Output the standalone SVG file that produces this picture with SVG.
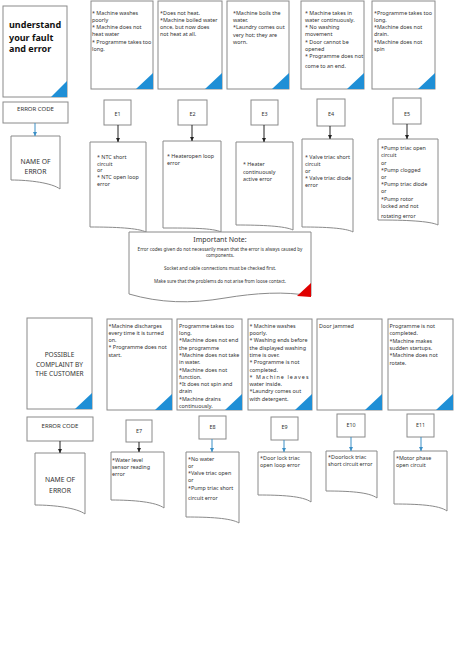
<svg xmlns="http://www.w3.org/2000/svg" width="474" height="670" viewBox="0 0 474 670">
<style>
.b{fill:#fff;stroke:#8a8a8a;stroke-width:1}
.tri{fill:#1f8fd6}
.t{font-family:"Noto Sans","Open Sans",sans-serif;font-size:5.4px;fill:#333}
.c{text-anchor:middle}
.big{font-size:6.8px}
.ec{font-size:6px}
.bold{font-family:"Noto Sans","Open Sans",sans-serif;font-size:9px;font-weight:bold;fill:#111}
.n{font-size:4.6px}
.ab{stroke:#3a8fc6;stroke-width:1;fill:none;marker-end:url(#mb)}
.ak{stroke:#222;stroke-width:1;fill:none;marker-end:url(#mk)}
</style>
<defs>
<marker id="mb" viewBox="0 0 6 6" refX="6" refY="3" markerWidth="4" markerHeight="4" markerUnits="userSpaceOnUse" orient="auto"><path d="M0,0 L6,3 L0,6 z" fill="#3a8fc6"/></marker>
<marker id="mk" viewBox="0 0 6 6" refX="6" refY="3" markerWidth="4" markerHeight="4" markerUnits="userSpaceOnUse" orient="auto"><path d="M0,0 L6,3 L0,6 z" fill="#222"/></marker>
</defs>
<rect width="474" height="670" fill="#fff"/>

<!-- top complaint row -->
<g id="title">
<rect class="b" x="3" y="6" width="64" height="91"/>
<polygon class="tri" points="51,97 67,81 67,97"/>
<text class="bold" x="9" y="28">understand</text>
<text class="bold" x="9" y="40.7">your fault</text>
<text class="bold" x="9" y="52.3">and error</text>
</g>
<g id="c-e1">
<rect class="b" x="91" y="1" width="62" height="88"/>
<polygon class="tri" points="136,89 153,73 153,89"/>
<text class="t" x="92" y="14.7">* Machine washes</text>
<text class="t" x="92" y="21.5">poorly</text>
<text class="t" x="92" y="28.7">* Machine does not</text>
<text class="t" x="92" y="36">heat water</text>
<text class="t" x="92" y="43.5">* Programme takes too</text>
<text class="t" x="92" y="50.7">long.</text>
</g>
<g id="c-e2">
<rect class="b" x="158" y="1" width="64" height="88"/>
<polygon class="tri" points="205,89 222,73 222,89"/>
<text class="t" x="160" y="14.7">*Does not heat.</text>
<text class="t" x="160" y="21.5">*Machine  boiled  water</text>
<text class="t" x="160" y="28.7">once, but now does</text>
<text class="t" x="160" y="36">not heat at all.</text>
</g>
<g id="c-e3">
<rect class="b" x="227" y="1" width="62" height="88"/>
<polygon class="tri" points="272,89 289,73 289,89"/>
<text class="t" x="233" y="14.7">*Machine boils the</text>
<text class="t" x="233" y="21.5">water.</text>
<text class="t" x="233" y="29.3">*Laundry comes out</text>
<text class="t" x="233" y="36.7">very hot; they are</text>
<text class="t" x="233" y="44">worn.</text>
</g>
<g id="c-e4">
<rect class="b" x="301" y="1" width="63" height="88"/>
<polygon class="tri" points="347,89 364,73 364,89"/>
<text class="t" x="305" y="14.7">* Machine takes in</text>
<text class="t" x="305" y="21.5">water continuously.</text>
<text class="t" x="305" y="28.7">* No washing</text>
<text class="t" x="305" y="36">movement</text>
<text class="t" x="305" y="43.5">* Door cannot be</text>
<text class="t" x="305" y="50.7">opened</text>
<text class="t" x="305" y="58">* Programme does not</text>
<text class="t" x="305" y="67.7">come to an end.</text>
</g>
<g id="c-e5">
<rect class="b" x="372" y="1" width="63" height="88"/>
<polygon class="tri" points="418,89 435,73 435,89"/>
<text class="t" x="374" y="14.7">*Programme takes too</text>
<text class="t" x="374" y="21.5">long.</text>
<text class="t" x="374" y="29">*Machine  does  not</text>
<text class="t" x="374" y="36">drain.</text>
<text class="t" x="374" y="43.5">*Machine  does  not</text>
<text class="t" x="374" y="50.7">spin</text>
</g>

<!-- top code row -->
<g id="errcode-top">
<rect class="b" x="3" y="102" width="65" height="21"/>
<text class="t ec c" x="35.5" y="111">ERROR CODE</text>
</g>
<g id="code-e1"><rect class="b" x="104" y="100" width="27" height="25"/><text class="t c" x="117.5" y="116">E1</text></g>
<g id="code-e2"><rect class="b" x="178" y="100" width="29" height="25"/><text class="t c" x="192.5" y="116">E2</text></g>
<g id="code-e3"><rect class="b" x="251" y="100" width="27" height="25"/><text class="t c" x="264.5" y="116">E3</text></g>
<g id="code-e4"><rect class="b" x="317" y="99" width="28" height="27"/><text class="t c" x="331" y="115.5">E4</text></g>
<g id="code-e5"><rect class="b" x="393" y="98" width="28" height="26"/><text class="t c" x="407" y="115.5">E5</text></g>

<!-- top names -->
<g id="name-top">
<path class="b" d="M11,136 H60 V189 C52,183 30,180 11,180 Z"/>
<text class="t big c" x="35.5" y="164">NAME OF</text>
<text class="t big c" x="35.5" y="173.5">ERROR</text>
</g>
<g id="name-e1">
<path class="b" d="M90,142 H146 V232 C138,228 115,227 90,227 Z"/>
<text class="t" x="97" y="158.7">* NTC short</text>
<text class="t" x="97" y="165.5">circuit</text>
<text class="t" x="97" y="172.3">or</text>
<text class="t" x="97" y="179.3">* NTC open loop</text>
<text class="t" x="97" y="186.3">error</text>
</g>
<g id="name-e2">
<path class="b" d="M163,141 H221 V232 C213,228 190,228 163,228 Z"/>
<text class="t" x="167" y="158">* Heateropen  loop</text>
<text class="t" x="167" y="165.3">error</text>
</g>
<g id="name-e3">
<path class="b" d="M236,142 H293 V230 C285,226 262,225 236,225 Z"/>
<text class="t" x="243" y="166.3">* Heater</text>
<text class="t" x="243" y="173.7">continuously</text>
<text class="t" x="243" y="181.3">active error</text>
</g>
<g id="name-e4">
<path class="b" d="M302,139 H353 V232 C346,228 325,227 302,227 Z"/>
<text class="t" x="305" y="158.5">* Valve triac short</text>
<text class="t" x="305" y="165.5">circuit</text>
<text class="t" x="305" y="172.7">or</text>
<text class="t" x="305" y="179.7">* Valve triac diode</text>
<text class="t" x="305" y="187">error</text>
</g>
<g id="name-e5">
<path class="b" d="M378,139 H438 V225 C430,221 405,220 378,220 Z"/>
<text class="t" x="381" y="150">*Pump triac open</text>
<text class="t" x="381" y="157.3">circuit</text>
<text class="t" x="381" y="164.5">or</text>
<text class="t" x="381" y="171.7">*Pump clogged</text>
<text class="t" x="381" y="178.9">or</text>
<text class="t" x="381" y="186.1">*Pump triac diode</text>
<text class="t" x="381" y="193.3">or</text>
<text class="t" x="381" y="200.5">*Pump rotor</text>
<text class="t" x="381" y="207.7">locked and not</text>
<text class="t" x="381" y="218.2">rotating error</text>
</g>

<!-- note -->
<g id="note">
<path class="b" d="M129,232 H311 V296 C285,291 255,293 225,298 C190,304 160,303 129,294 Z"/>
<polygon fill="#e00000" points="297,296 311,283 311,297"/>
<text class="t c" style="font-size:7px" x="220" y="241.5">Important Note:</text>
<text class="t n c" x="220" y="250.7">Error codes given do not necessarily mean that the error is always caused by</text>
<text class="t n c" x="220" y="257">components.</text>
<text class="t n c" x="220" y="270">Socket and cable connections must be checked first.</text>
<text class="t n c" x="220" y="283">Make sure that the problems do not arise from loose contact.</text>
</g>

<!-- bottom complaint row -->
<g id="title2">
<rect class="b" x="27" y="318" width="65" height="91"/>
<polygon class="tri" points="75,409 92,393 92,409"/>
<text class="t c" style="font-size:6.5px" x="59.5" y="357.3">POSSIBLE</text>
<text class="t c" style="font-size:6.5px" x="59.5" y="366.6">COMPLAINT BY</text>
<text class="t c" style="font-size:6.5px" x="59.5" y="376">THE CUSTOMER</text>
</g>
<g id="c-e7">
<rect class="b" x="107" y="319" width="65" height="91"/>
<polygon class="tri" points="155,410 172,394 172,410"/>
<text class="t" x="108.5" y="327.5">*Machine discharges</text>
<text class="t" x="108.5" y="334.5">every time it is turned</text>
<text class="t" x="108.5" y="341.5">on.</text>
<text class="t" x="108.5" y="349.3">* Programme does not</text>
<text class="t" x="108.5" y="356.5">start.</text>
</g>
<g id="c-e8">
<rect class="b" x="177" y="319" width="65" height="91"/>
<polygon class="tri" points="225,410 242,394 242,410"/>
<text class="t" x="179" y="327.7">Programme takes too</text>
<text class="t" x="179" y="335">long.</text>
<text class="t" x="179" y="342.3">*Machine does not end</text>
<text class="t" x="179" y="349.6">the programme</text>
<text class="t" x="179" y="356.9">*Machine does not take</text>
<text class="t" x="179" y="364.2">in water.</text>
<text class="t" x="179" y="371.5">*Machine does not</text>
<text class="t" x="179" y="378.8">function.</text>
<text class="t" x="179" y="386.1">*It does not spin and</text>
<text class="t" x="179" y="393.4">drain</text>
<text class="t" x="179" y="400.7">*Machine drains</text>
<text class="t" x="179" y="408">continuously.</text>
</g>
<g id="c-e9">
<rect class="b" x="248" y="319" width="64" height="91"/>
<polygon class="tri" points="295,410 312,394 312,410"/>
<text class="t" x="249.5" y="327.7">* Machine washes</text>
<text class="t" x="249.5" y="335">poorly.</text>
<text class="t" x="249.5" y="342.3">* Washing ends before</text>
<text class="t" x="249.5" y="349.6">the displayed washing</text>
<text class="t" x="249.5" y="356.9">time is over.</text>
<text class="t" x="249.5" y="364.2">* Programme is not</text>
<text class="t" x="249.5" y="371.5">completed.</text>
<text class="t" x="249.5" y="378.8" textLength="59" lengthAdjust="spacing">*      Machine      leaves</text>
<text class="t" x="249.5" y="386.1">water inside.</text>
<text class="t" x="249.5" y="393.4">*Laundry comes out</text>
<text class="t" x="249.5" y="400.7">with detergent.</text>
</g>
<g id="c-e10">
<rect class="b" x="317" y="319" width="65" height="91"/>
<polygon class="tri" points="365,410 382,394 382,410"/>
<text class="t" x="319" y="328">Door jammed</text>
</g>
<g id="c-e11">
<rect class="b" x="388" y="319" width="65" height="91"/>
<polygon class="tri" points="436,410 453,394 453,410"/>
<text class="t" x="389.5" y="328">Programme is not</text>
<text class="t" x="389.5" y="335.3">completed.</text>
<text class="t" x="389.5" y="342.6">*Machine makes</text>
<text class="t" x="389.5" y="349.9">sudden startups.</text>
<text class="t" x="389.5" y="357.2">*Machine does not</text>
<text class="t" x="389.5" y="364.5">rotate.</text>
</g>

<!-- bottom code row -->
<g id="errcode-bot">
<rect class="b" x="27" y="417" width="66" height="24"/>
<text class="t ec c" x="60" y="428">ERROR CODE</text>
</g>
<g id="code-e7"><rect class="b" x="126" y="420" width="26" height="22"/><text class="t c" x="139" y="433">E7</text></g>
<g id="code-e8"><rect class="b" x="199" y="416" width="27" height="23"/><text class="t c" x="212.5" y="429">E8</text></g>
<g id="code-e9"><rect class="b" x="271" y="417" width="27" height="23"/><text class="t c" x="284.5" y="429">E9</text></g>
<g id="code-e10"><rect class="b" x="337" y="414" width="28" height="23"/><text class="t c" x="351" y="427">E10</text></g>
<g id="code-e11"><rect class="b" x="407" y="414" width="27" height="23"/><text class="t c" x="420.5" y="427">E11</text></g>

<!-- bottom names -->
<g id="name-bot">
<path class="b" d="M35,453 H85 V514 C77,508 55,505 35,505 Z"/>
<text class="t big c" x="60" y="481.5">NAME OF</text>
<text class="t big c" x="60" y="492.5">ERROR</text>
</g>
<g id="name-e7">
<path class="b" d="M111,452 H164 V508 C156,502 134,500 111,500 Z"/>
<text class="t" x="112" y="461.5">*Water level</text>
<text class="t" x="112" y="468.5">sensor reading</text>
<text class="t" x="112" y="475.5">error</text>
</g>
<g id="name-e8">
<path class="b" d="M186,452 H239 V523 C231,518 209,517 186,517 Z"/>
<text class="t" x="188" y="460.5">*No water</text>
<text class="t" x="188" y="467.5">or</text>
<text class="t" x="188" y="475">*Valve  triac  open</text>
<text class="t" x="188" y="482">or</text>
<text class="t" x="188" y="489.5">*Pump triac short</text>
<text class="t" x="188" y="500">circuit error</text>
</g>
<g id="name-e9">
<path class="b" d="M258,452 H311 V502 C303,496 281,495 258,495 Z"/>
<text class="t" x="260" y="459.7">*Door lock triac</text>
<text class="t" x="260" y="467">open loop error</text>
</g>
<g id="name-e10">
<path class="b" d="M326,451 H377 V498 C369,492 348,491 326,491 Z"/>
<text class="t" x="328" y="458.7">*Doorlock triac</text>
<text class="t" x="328" y="466">short circuit error</text>
</g>
<g id="name-e11">
<path class="b" d="M394,451 H447 V511 C439,505 417,504 394,504 Z"/>
<text class="t" x="396" y="459.7">*Motor   phase</text>
<text class="t" x="396" y="466.7">open circuit</text>
</g>

<g id="connectors">
<line class="ab" x1="35" y1="123" x2="35" y2="136"/>
<line class="ak" x1="118" y1="125" x2="118" y2="142"/>
<line class="ak" x1="192" y1="125" x2="192" y2="141"/>
<line class="ak" x1="264" y1="125" x2="264" y2="142"/>
<line class="ak" x1="330" y1="126" x2="330" y2="139"/>
<line class="ak" x1="407" y1="124" x2="407" y2="139"/>
<line class="ak" x1="60" y1="441" x2="60" y2="453"/>
<line class="ak" x1="139" y1="442" x2="139" y2="452"/>
<line class="ab" x1="212" y1="439" x2="212" y2="452"/>
<line class="ab" x1="284" y1="440" x2="284" y2="452"/>
<line class="ab" x1="351" y1="437" x2="351" y2="451"/>
<line class="ab" x1="421" y1="437" x2="421" y2="451"/>
</g>
</svg>
